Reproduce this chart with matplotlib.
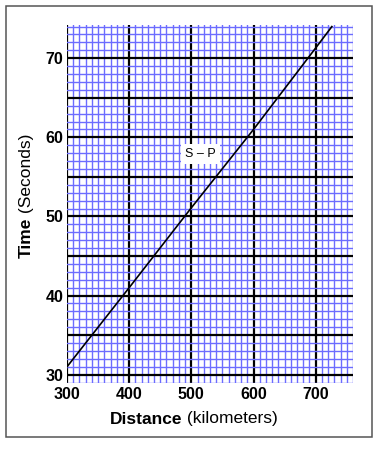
import matplotlib
matplotlib.use("Agg")
import matplotlib.pyplot as plt
from matplotlib.ticker import MultipleLocator, FixedLocator, FuncFormatter
from matplotlib.patches import Rectangle

# Data
distance_km = [300, 400, 500, 600, 700, 726]
sp_time_s = [31.0, 41.0, 51.1, 61.0, 71.3, 74.0]
x_tick_labels = [300, 400, 500, 600, 700]
y_tick_labels = [30, 40, 50, 60, 70]
curve_label = "S \u2013 P"

plt.rcParams['font.family'] = ['Liberation Sans', 'DejaVu Sans']

W, H = 386, 454
fig = plt.figure(figsize=(W / 100, H / 100), dpi=100)
fig.patch.set_facecolor('white')

left, right, top, bottom = 67, 353, 25, 383
ax = fig.add_axes([left / W, 1 - bottom / H, (right - left) / W, (bottom - top) / H])

ax.set_xlim(300, 760)
ax.set_ylim(28.95, 74.2)

blue = '#6c6cff'
ax.xaxis.set_minor_locator(MultipleLocator(10))
ax.yaxis.set_minor_locator(MultipleLocator(1))
ax.xaxis.set_major_locator(FixedLocator(x_tick_labels))
ax.yaxis.set_major_locator(MultipleLocator(5))
ax.yaxis.set_major_formatter(FuncFormatter(lambda v, p: f"{int(round(v))}" if int(round(v)) in y_tick_labels else ""))

ax.grid(which='minor', color=blue, linewidth=1.0, zorder=1)
ax.grid(which='major', color='black', linewidth=1.6, zorder=2)
ax.set_axisbelow(True)
for s in ax.spines.values():
    s.set_visible(False)
ax.tick_params(which='both', length=0)
ax.tick_params(axis='x', pad=3, labelsize=11.5)
ax.tick_params(axis='y', pad=2.5, labelsize=11.5)
for lab in ax.get_xticklabels() + ax.get_yticklabels():
    lab.set_fontweight('bold')

ax.plot(distance_km, sp_time_s, color='black', linewidth=1.2, zorder=3)

ax.text(515, 57.9, curve_label, ha='center', va='center', fontsize=9, zorder=4,
        bbox=dict(boxstyle='square,pad=0.35', facecolor='white', edgecolor='none'))

# Axis titles (bold word + normal parenthetical)
fig.canvas.draw()
r = fig.canvas.get_renderer()
fs = 12.5
t1 = fig.text(110 / W, 1 - 419 / H, "Distance", fontsize=fs, fontweight='bold', ha='left', va='center')
w1 = t1.get_window_extent(r).width
fig.text((110 + w1) / W, 1 - 419 / H, " (kilometers)", fontsize=fs, ha='left', va='center')
t2 = fig.text(26 / W, 1 - 258 / H, "Time", fontsize=fs, fontweight='bold', rotation=90, ha='center', va='bottom')
h2 = t2.get_window_extent(r).height
fig.text(26 / W, 1 - (258 - h2) / H, " (Seconds)", fontsize=fs, rotation=90, ha='center', va='bottom')

# Outer frame
fig.patches.append(Rectangle((6 / W, 1 - 437 / H), (372 - 6) / W, (437 - 6) / H,
                             transform=fig.transFigure, fill=False, edgecolor='#555555', linewidth=1.1))

fig.savefig('out.png', dpi=100, facecolor='white')
